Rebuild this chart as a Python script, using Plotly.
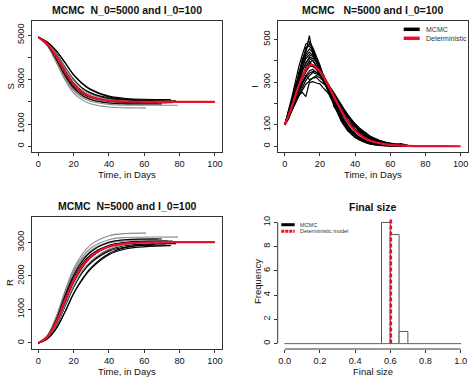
import plotly.graph_objects as go

W, H = 474, 386
FONT = "Liberation Sans, Arial, sans-serif"

# ---------------- data ----------------
SR_DAYS = [0, 5, 10, 15, 20, 25, 30, 40, 50]
TRAJ_END = [61, 79, 75, 72, 76, 70, 65, 68, 78, 63, 73, 60, 66, 70]
TRAJ_GRAY = [True, True, False, False, True, False, False, True, False, False, False, True, False, False]

S_TRAJ = [
    [4900, 4519, 3789, 2995, 2392, 2074, 1900, 1763, 1728, 1725],
    [4900, 4533, 3831, 3067, 2487, 2181, 2013, 1882, 1848, 1845],
    [4900, 4690, 4312, 3780, 3220, 2828, 2548, 2254, 2148, 2100],
    [4900, 4646, 4195, 3575, 3011, 2616, 2390, 2173, 2103, 2080],
    [4900, 4546, 3868, 3130, 2570, 2275, 2112, 1985, 1953, 1950],
    [4900, 4601, 4050, 3351, 2780, 2421, 2220, 2055, 2009, 2000],
    [4900, 4599, 4044, 3341, 2765, 2403, 2202, 2035, 1989, 1980],
    [4900, 4542, 3857, 3112, 2546, 2248, 2084, 1956, 1923, 1920],
    [4900, 4643, 4185, 3556, 2984, 2583, 2355, 2134, 2063, 2040],
    [4900, 4580, 3969, 3241, 2688, 2360, 2179, 2034, 1996, 1990],
    [4900, 4621, 4106, 3430, 2842, 2460, 2233, 2036, 1975, 1960],
    [4900, 4640, 4178, 3542, 2964, 2559, 2328, 2105, 2033, 2010],
    [4900, 4687, 4304, 3764, 3196, 2798, 2514, 2216, 2108, 2060],
    [4900, 4570, 3940, 3190, 2620, 2281, 2095, 1945, 1906, 1900],
]

R_TRAJ = [
    [0, 211, 771, 1535, 2218, 2656, 2940, 3195, 3264, 3274],
    [0, 212, 759, 1493, 2143, 2564, 2837, 3078, 3144, 3155],
    [0, 120, 418, 910, 1470, 1892, 2222, 2631, 2810, 2900],
    [0, 149, 500, 1080, 1659, 2104, 2395, 2735, 2867, 2920],
    [0, 209, 737, 1450, 2080, 2480, 2743, 2977, 3040, 3050],
    [0, 169, 604, 1269, 1870, 2299, 2580, 2873, 2969, 3000],
    [0, 166, 606, 1274, 1883, 2317, 2600, 2895, 2991, 3020],
    [0, 208, 743, 1463, 2099, 2504, 2768, 3005, 3070, 3080],
    [0, 147, 505, 1094, 1681, 2132, 2427, 2772, 2906, 2960],
    [0, 180, 656, 1354, 1957, 2375, 2646, 2911, 2990, 3010],
    [0, 154, 559, 1195, 1808, 2255, 2557, 2881, 2998, 3040],
    [0, 152, 512, 1106, 1700, 2156, 2454, 2801, 2936, 2990],
    [0, 121, 421, 921, 1489, 1917, 2251, 2666, 2849, 2940],
    [0, 185, 675, 1395, 2018, 2449, 2727, 2999, 3080, 3100],
]

I_DAYS = [0, 2, 4, 6, 8, 10, 12, 14, 16, 18, 20, 22, 24, 26, 28, 30, 32, 34, 36,
          38, 40, 42, 44, 46, 48, 50, 54, 58, 62, 66, 70, 74, 78]

I_TRAJ = [
    [100, 145, 215, 262, 345, 392, 462, 468, 447, 396, 372, 318, 284, 228, 196, 155, 124, 97, 78, 55, 44, 30, 26, 17, 13, 8, 4, 2],
    [100, 160, 205, 285, 330, 410, 440, 518, 430, 405, 350, 330, 270, 240, 185, 160, 118, 96, 70, 57, 40, 33, 22, 18, 11, 9, 5, 3, 2, 1, 1, 0, 0],
    [100, 128, 168, 205, 235, 262, 290, 305, 320, 330, 320, 305, 285, 262, 238, 212, 190, 165, 142, 122, 104, 88, 74, 60, 50, 41, 27, 17, 10, 6, 3, 1],
    [100, 135, 180, 220, 262, 300, 330, 352, 360, 345, 335, 310, 292, 262, 240, 210, 190, 165, 140, 118, 96, 80, 64, 52, 42, 33, 20, 12, 7, 4, 2],
    [100, 150, 200, 262, 318, 370, 410, 428, 420, 392, 352, 318, 270, 238, 200, 165, 135, 108, 86, 66, 52, 40, 30, 22, 16, 12, 6, 3, 2, 1, 1, 0],
    [100, 140, 185, 232, 280, 322, 360, 382, 378, 360, 340, 305, 280, 246, 215, 188, 160, 135, 110, 92, 74, 60, 48, 36, 28, 22, 13, 7, 4, 2, 1],
    [100, 138, 192, 226, 290, 318, 372, 400, 372, 368, 330, 318, 268, 255, 205, 196, 150, 140, 108, 96, 70, 62, 45, 38, 26, 21, 12, 7, 3],
    [100, 152, 215, 270, 338, 398, 450, 480, 455, 412, 370, 322, 282, 240, 196, 162, 128, 104, 80, 63, 48, 36, 28, 20, 14, 10, 5, 3, 1, 0],
    [100, 132, 172, 215, 255, 292, 322, 342, 350, 346, 332, 312, 288, 266, 240, 215, 190, 168, 146, 124, 104, 88, 72, 60, 48, 40, 26, 16, 10, 6, 3, 2, 1],
    [100, 142, 198, 250, 302, 350, 392, 410, 400, 372, 345, 300, 272, 230, 200, 165, 140, 112, 92, 70, 58, 44, 35, 26, 20, 15, 8, 4, 2],
    [100, 136, 182, 228, 272, 315, 348, 372, 375, 362, 338, 315, 285, 258, 230, 200, 172, 140, 115, 88, 70, 66, 70, 64, 48, 36, 20, 12, 8, 12, 4, 1],
    [100, 135, 170, 210, 238, 252, 232, 298, 302, 296, 292, 272, 255, 232, 210, 186, 160, 138, 116, 96, 78, 62, 50, 38, 30, 24, 12, 6],
    [100, 130, 172, 214, 256, 290, 330, 312, 318, 322, 305, 292, 280, 258, 232, 205, 180, 155, 132, 110, 90, 74, 60, 48, 38, 30, 18, 10, 5, 2],
    [100, 148, 200, 258, 315, 368, 420, 440, 425, 392, 360, 320, 290, 250, 212, 178, 148, 120, 96, 75, 58, 45, 35, 26, 19, 14, 7, 4, 2, 1, 0],
    [100, 150, 210, 268, 330, 385, 430, 455, 438, 405, 362, 325, 278, 245, 205, 170, 140, 110, 88, 68, 52, 40, 31, 23, 17, 12, 6, 3, 2, 1],
    [100, 132, 188, 240, 278, 335, 352, 390, 402, 378, 352, 335, 290, 268, 228, 205, 170, 150, 120, 102, 80, 68, 52, 44, 32, 26, 14, 9, 5, 8, 2],
    [100, 158, 228, 300, 372, 428, 478, 490, 462, 420, 380, 330, 288, 242, 200, 160, 130, 100, 80, 60, 46, 34, 26, 19, 13, 9, 4, 2, 1],
    [100, 125, 165, 200, 240, 278, 308, 330, 345, 338, 330, 308, 290, 262, 238, 208, 185, 158, 135, 112, 92, 76, 62, 50, 40, 32, 20, 12, 7, 4, 2, 1],
    [100, 146, 190, 252, 296, 355, 385, 418, 410, 398, 348, 332, 288, 262, 222, 198, 160, 142, 112, 96, 74, 62, 46, 40, 28, 22, 12, 7, 3, 1],
    [100, 140, 190, 238, 288, 330, 365, 385, 380, 365, 350, 330, 300, 275, 250, 222, 196, 170, 145, 120, 100, 82, 68, 56, 45, 36, 22, 14, 9, 5, 3, 1, 0],
]

DET_DAYS = [0, 5, 10, 15, 20, 25, 30, 35, 40, 50, 60, 80, 100]
DET_S = [4900, 4600, 4050, 3350, 2780, 2420, 2220, 2110, 2055, 2010, 2000, 1996, 1995]
DET_R = [0, 170, 604, 1270, 1870, 2300, 2580, 2765, 2873, 2968, 2994, 3004, 3005]
DET_I_DAYS = [0, 2, 4, 6, 8, 10, 12, 14, 16, 18, 20, 25, 30, 35, 40, 45, 50, 55, 60, 70, 80, 90, 100]
DET_I = [100, 140, 185, 235, 285, 325, 360, 378, 380, 368, 350, 280, 200, 125, 72, 40, 22, 12, 6, 2, 0.5, 0.1, 0]

BREAKS = [0.00, 0.05, 0.10, 0.15, 0.20, 0.25, 0.30, 0.35, 0.40, 0.45, 0.50,
          0.55, 0.60, 0.65, 0.70, 0.75, 0.80, 0.85, 0.90, 0.95, 1.00]
COUNTS = [0, 0, 0, 0, 0, 0, 0, 0, 0, 0, 0, 10, 9, 1, 0, 0, 0, 0, 0, 0]
DET_FINAL = 0.603

TITLES = ["MCMC\u00a0\u00a0N_0=5000 and I_0=100", "MCMC\u00a0\u00a0\u00a0N=5000 and I_0=100",
          "MCMC\u00a0\u00a0N=5000 and I_0=100", "Final size"]

# ---------------- styling ----------------
BLACK = "#000000"
GRAY = "#8a8a8a"
RED = "#e8112d"
AXC = "#333333"


def px(x):
    return x / W


def py(y):
    return 1 - y / H


fig = go.Figure()


def line(x, y, color, width, xa, ya, shape="linear", dash=None):
    fig.add_trace(go.Scatter(x=x, y=y, mode="lines",
                             line=dict(color=color, width=width, shape=shape, dash=dash),
                             xaxis=xa, yaxis=ya, showlegend=False, hoverinfo="skip"))


# Panel 1: S
for k in range(len(S_TRAJ)):
    xs = SR_DAYS + [TRAJ_END[k]]
    line(xs, S_TRAJ[k], GRAY if TRAJ_GRAY[k] else BLACK, 1.1, "x", "y", shape="spline")
line(DET_DAYS, DET_S, RED, 2.2, "x", "y", shape="spline")

# Panel 2: I
for k in range(len(I_TRAJ)):
    line(I_DAYS[:len(I_TRAJ[k])], I_TRAJ[k], BLACK, 1.2, "x2", "y2")
line(DET_I_DAYS, DET_I, RED, 2.2, "x2", "y2", shape="spline")

# Panel 3: R
for k in range(len(R_TRAJ)):
    xs = SR_DAYS + [TRAJ_END[k]]
    line(xs, R_TRAJ[k], GRAY if TRAJ_GRAY[k] else BLACK, 1.1, "x3", "y3", shape="spline")
line(DET_DAYS, DET_R, RED, 2.2, "x3", "y3", shape="spline")

# Panel 4: histogram
widths = [BREAKS[i + 1] - BREAKS[i] for i in range(len(COUNTS))]
fig.add_trace(go.Bar(x=BREAKS[:-1], y=COUNTS, width=widths, offset=0,
                     marker=dict(color="white", line=dict(color="#555555", width=1)),
                     xaxis="x4", yaxis="y4", showlegend=False, hoverinfo="skip"))
line([BREAKS[0], BREAKS[-1]], [0, 0], "#777777", 1, "x4", "y4")
line([DET_FINAL, DET_FINAL], [0, 10.3], RED, 2.6, "x4", "y4", dash="4px,2px")

# ---------------- axes ----------------
XD_L = [px(32), px(222)]
XD_R = [px(277.7), px(467.7)]
YD_T = [py(152), py(21)]
YD_B = [py(349), py(217)]

base = dict(showgrid=False, zeroline=False, showline=True, mirror=True, linecolor=AXC,
            linewidth=1, ticks="outside", ticklen=3, tickwidth=1, tickcolor=AXC,
            tickfont=dict(size=9.2, color="#111111", family=FONT), fixedrange=True)

day_ticks = [0, 20, 40, 60, 80, 100]

fig.update_layout(
    xaxis=dict(base, domain=XD_L, range=[-3.6, 104], anchor="y", tickvals=day_ticks),
    yaxis=dict(base, domain=YD_T, range=[-257, 5630], anchor="x", tickangle=-90,
               tickvals=[0, 1000, 2000, 3000, 4000, 5000],
               ticktext=["0", "1000", "", "3000", "", "5000"]),
    xaxis2=dict(base, domain=XD_R, range=[-4, 104], anchor="y2", tickvals=day_ticks),
    yaxis2=dict(base, domain=YD_T, range=[-27, 586], anchor="x2", tickangle=-90,
                tickvals=[0, 100, 200, 300, 400, 500],
                ticktext=["0", "100", "", "300", "", "500"]),
    xaxis3=dict(base, domain=XD_L, range=[-3.6, 104], anchor="y3", tickvals=day_ticks),
    yaxis3=dict(base, domain=YD_B, range=[-179, 3754], anchor="x3", tickangle=-90,
                tickvals=[0, 1000, 2000, 3000]),
    xaxis4=dict(base, domain=XD_R, range=[-0.04, 1.04], anchor="y4", showline=False,
                mirror=False, tickvals=[0, 0.2, 0.4, 0.6, 0.8, 1.0],
                ticktext=["0.0", "0.2", "0.4", "0.6", "0.8", "1.0"]),
    yaxis4=dict(base, domain=YD_B, range=[-0.45, 10.45], anchor="x4", showline=False,
                mirror=False, tickangle=-90, tickvals=[0, 2, 4, 6, 8, 10]),
    width=W, height=H, margin=dict(l=0, r=0, t=0, b=0),
    paper_bgcolor="white", plot_bgcolor="white",
    font=dict(family=FONT, color="#111111"),
)

shapes = [
    dict(type="line", xref="x4", yref="y4 domain", x0=BREAKS[0], x1=BREAKS[-1], y0=0, y1=0,
         line=dict(color=AXC, width=1)),
    dict(type="line", xref="x4 domain", yref="y4", x0=0, x1=0, y0=0, y1=10,
         line=dict(color=AXC, width=1)),
    # legend samples panel 2
    dict(type="line", xref="paper", yref="paper", x0=px(403.7), x1=px(419.7), y0=py(29.3), y1=py(29.3),
         line=dict(color=BLACK, width=3.5)),
    dict(type="line", xref="paper", yref="paper", x0=px(403.7), x1=px(419.7), y0=py(38.3), y1=py(38.3),
         line=dict(color=RED, width=3.5)),
    # legend samples panel 4
    dict(type="line", xref="paper", yref="paper", x0=px(281.3), x1=px(294.7), y0=py(224.7), y1=py(224.7),
         line=dict(color=BLACK, width=3)),
    dict(type="line", xref="paper", yref="paper", x0=px(281.3), x1=px(294.7), y0=py(231.3), y1=py(231.3),
         line=dict(color=RED, width=3, dash="3px,1px")),
]
fig.update_layout(shapes=shapes)


def ann(text, x, y, size, bold=False, angle=0, xanchor="center", color="#111111"):
    t = "<b>%s</b>" % text if bold else text
    return dict(text=t, x=px(x), y=py(y), xref="paper", yref="paper", showarrow=False,
                xanchor=xanchor, yanchor="middle", textangle=angle,
                font=dict(size=size, family=FONT, color=color))


annotations = [
    ann(TITLES[0], 127, 10, 10.5, bold=True),
    ann(TITLES[1], 372.7, 10, 10.5, bold=True),
    ann(TITLES[2], 127, 206.3, 10.5, bold=True),
    ann(TITLES[3], 372.7, 207, 10.5, bold=True),
    ann("Time, in Days", 127, 174.5, 9.5),
    ann("Time, in Days", 372.7, 174.5, 9.5),
    ann("Time, in Days", 127, 371, 9.5),
    ann("Final size", 372.7, 371, 9.5),
    ann("S", 10, 86.5, 9.5, angle=-90),
    ann("I", 254.3, 86.5, 9.5, angle=-90),
    ann("R", 9, 283, 9.5, angle=-90),
    ann("Frequency", 257, 282, 9.5, angle=-90),
    ann("MCMC", 423.5, 29.3, 7, xanchor="left", color="#333333"),
    ann("Deterministic", 423.5, 38.3, 7, xanchor="left", color="#333333"),
    ann("MCMC", 298, 224.7, 5.5, xanchor="left", color="#333333"),
    ann("Deterministic model", 298, 231.3, 5.5, xanchor="left", color="#333333"),
]
fig.update_layout(annotations=annotations)

fig.write_html("out.html", config={"displayModeBar": False},
               post_script="document.body.style.margin='0';document.body.style.overflow='hidden';")
